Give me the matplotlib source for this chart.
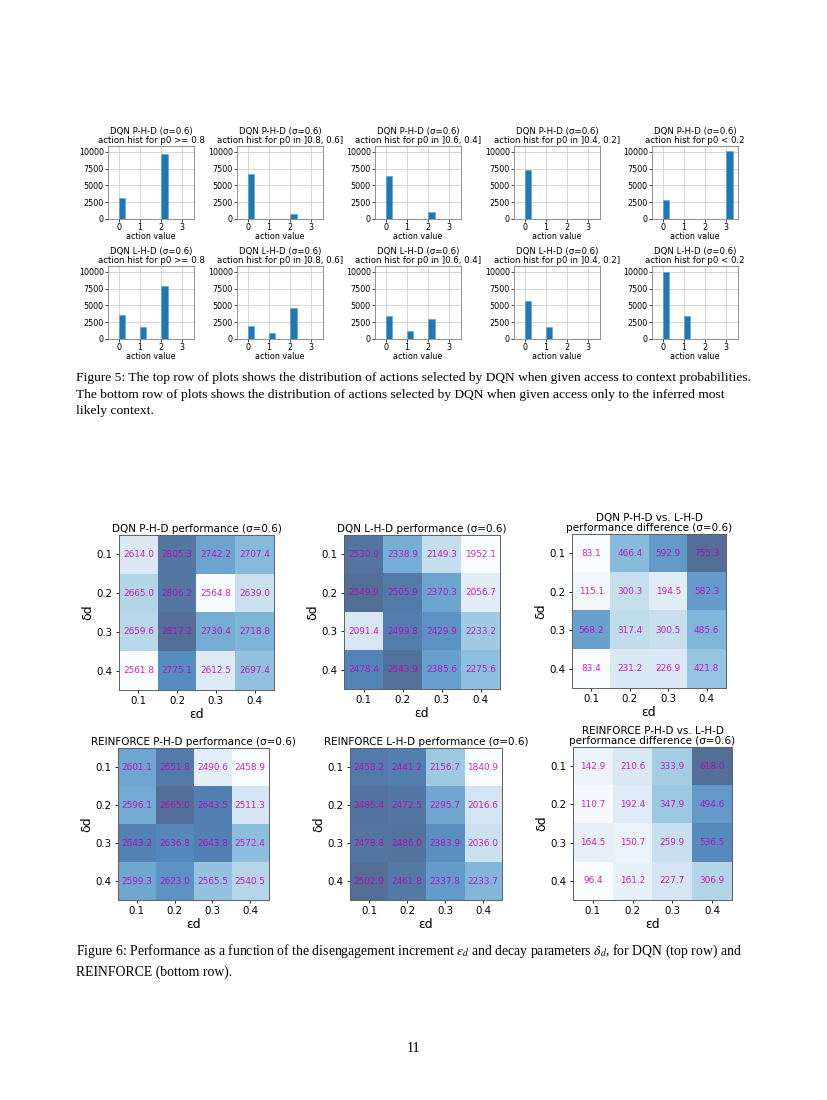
import numpy as np
import matplotlib
matplotlib.use("Agg")
import matplotlib.pyplot as plt

# FIGURE 5 DATA (action histograms, counts per action 0..3)
hist_ranges = ["p0 >= 0.8", "p0 in ]0.8, 0.6]", "p0 in ]0.6, 0.4]",
               "p0 in ]0.4, 0.2]", "p0 < 0.2"]
phd_counts = [[3050, 0, 9700, 0],
              [6650, 0, 700, 0],
              [6350, 0, 1100, 0],
              [7350, 0, 0, 0],
              [2750, 0, 0, 10100]]
lhd_counts = [[3600, 1750, 7900, 0],
              [2000, 950, 4650, 0],
              [3450, 1250, 2900, 0],
              [5700, 1850, 0, 0],
              [9900, 3400, 0, 0]]
actions = [0, 1, 2, 3]

# FIGURE 6 DATA (rows: delta_d, cols: eps_d)
params = [0.1, 0.2, 0.3, 0.4]
dqn_phd = [[2614.0, 2805.3, 2742.2, 2707.4],
           [2665.0, 2806.2, 2564.8, 2639.0],
           [2659.6, 2817.2, 2730.4, 2718.8],
           [2561.8, 2775.1, 2612.5, 2697.4]]
dqn_lhd = [[2530.9, 2338.9, 2149.3, 1952.1],
           [2549.9, 2505.9, 2370.3, 2056.7],
           [2091.4, 2499.8, 2429.9, 2233.2],
           [2478.4, 2543.9, 2385.6, 2275.6]]
dqn_diff = [[83.1, 466.4, 592.9, 755.3],
            [115.1, 300.3, 194.5, 582.3],
            [568.2, 317.4, 300.5, 485.6],
            [83.4, 231.2, 226.9, 421.8]]
rf_phd = [[2601.1, 2651.8, 2490.6, 2458.9],
          [2596.1, 2665.0, 2643.5, 2511.3],
          [2643.2, 2636.8, 2643.8, 2572.4],
          [2599.3, 2623.0, 2565.5, 2540.5]]
rf_lhd = [[2458.2, 2441.2, 2156.7, 1840.9],
          [2485.4, 2472.5, 2295.7, 2016.6],
          [2478.8, 2486.0, 2383.9, 2036.0],
          [2502.9, 2461.8, 2337.8, 2233.7]]
rf_diff = [[142.9, 210.6, 333.9, 618.0],
           [110.7, 192.4, 347.9, 494.6],
           [164.5, 150.7, 259.9, 536.5],
           [96.4, 161.2, 227.7, 306.9]]

W, H = 827, 1100
fig = plt.figure(figsize=(8.27, 11.0), dpi=100)


def box(l, t, r, b):
    # pixel box -> figure fraction
    return [l / W, 1 - b / H, (r - l) / W, (b - t) / H]


# HISTOGRAMS
lefts = [108, 237, 375, 514, 652]
for row, (name, counts) in enumerate([("P-H-D", phd_counts), ("L-H-D", lhd_counts)]):
    top = 146 if row == 0 else 266
    for i, l in enumerate(lefts):
        ax = fig.add_axes(box(l, top, l + 86, top + 73))
        ax.set_axisbelow(True)
        ax.grid(True, color="#d0d0d0", lw=0.6)
        ax.bar(actions, counts[i], width=0.3, align="edge", color="#1f77b4",
               edgecolor="#5fa0d0", lw=0.4)
        ax.set_xlim(-0.52, 3.55)
        ax.set_ylim(0, 10850)
        ax.set_xticks(actions)
        ax.set_yticks([0, 2500, 5000, 7500, 10000])
        ax.tick_params(labelsize=5.8, length=2, width=0.5, pad=1)
        for s in ax.spines.values():
            s.set_color("#808080")
            s.set_linewidth(0.6)
        ax.set_title("DQN %s (σ=0.6)\naction hist for %s" % (name, hist_ranges[i]),
                     fontsize=6.2, pad=2, linespacing=1.05)
        ax.set_xlabel("action value", fontsize=5.8, labelpad=0)

serif = ["Liberation Serif", "DejaVu Serif"]
plt.rcParams["mathtext.fontset"] = "stix"

fig.text(76 / W, 1 - 372 / H,
         "Figure 5: The top row of plots shows the distribution of actions selected by DQN when given access to context probabilities.\n"
         "The bottom row of plots shows the distribution of actions selected by DQN when given access only to the inferred most\n"
         "likely context.",
         family=serif, fontsize=9.7, va="top", ha="left", linespacing=1.52)

# HEATMAPS
heat = [
    (dqn_phd, "DQN P-H-D performance (σ=0.6)", (119, 535, 274, 690)),
    (dqn_lhd, "DQN L-H-D performance (σ=0.6)", (344, 535, 500, 689)),
    (dqn_diff, "DQN P-H-D vs. L-H-D\nperformance difference (σ=0.6)", (572, 534, 726, 688)),
    (rf_phd, "REINFORCE P-H-D performance (σ=0.6)", (118, 748, 269, 900)),
    (rf_lhd, "REINFORCE L-H-D performance (σ=0.6)", (350, 748, 502, 900)),
    (rf_diff, "REINFORCE P-H-D vs. L-H-D\nperformance difference (σ=0.6)", (573, 747, 732, 900)),
]
for vals, title, b in heat:
    ax = fig.add_axes(box(*b))
    arr = np.array(vals)
    ax.imshow(arr, cmap="Blues", alpha=0.7, aspect="auto")
    for r in range(4):
        for c in range(4):
            ax.text(c, r, "%.1f" % arr[r, c], ha="center", va="center",
                    color="m", alpha=0.85, fontsize=6.4)
    ax.set_xticks(range(4))
    ax.set_xticklabels(params)
    ax.set_yticks(range(4))
    ax.set_yticklabels(params)
    ax.tick_params(labelsize=7.4, length=2.5, width=0.6, pad=2)
    for s in ax.spines.values():
        s.set_color("#606060")
        s.set_linewidth(0.7)
    ax.set_xlabel("εd", fontsize=9, labelpad=1)
    ax.set_ylabel("δd", fontsize=9, labelpad=2)
    ax.set_title(title, fontsize=7.5, pad=2, linespacing=1.0)

fig.text(76 / W, 1 - 943 / H,
         "Figure 6: Performance as a function of the disengagement increment $\\epsilon_d$ and decay parameters $\\delta_d$, for DQN (top row) and\n"
         "REINFORCE (bottom row).",
         family=serif, fontsize=9.9, va="top", ha="left", linespacing=1.5)

fig.text(0.5, 1 - 1048 / H, "11", family=serif, fontsize=10, ha="center", va="center")

fig.savefig("out.png", dpi=100)
